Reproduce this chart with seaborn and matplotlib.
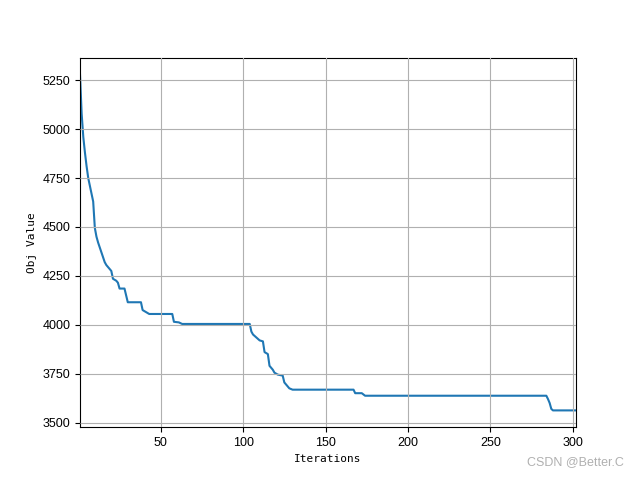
import matplotlib
matplotlib.use("Agg")
import matplotlib.pyplot as plt
import seaborn as sns
import pandas as pd

iterations = [1, 2, 3, 4, 5, 6, 7, 8, 9, 10, 11, 12, 13, 14, 15, 16, 17, 18, 20, 21,
              23, 24, 25, 28, 30, 38, 39, 41, 43, 57, 58, 61, 63, 104, 105, 106, 108,
              110, 112, 113, 115, 116, 118, 119, 121, 124, 125, 127, 128, 130, 167,
              168, 172, 174, 284, 285, 286, 287, 288, 302]
obj_values = [5280, 5080, 4960, 4880, 4810, 4750, 4710, 4670, 4630, 4495, 4450, 4420,
              4395, 4370, 4345, 4320, 4305, 4295, 4275, 4235, 4225, 4215, 4185, 4185,
              4115, 4115, 4075, 4065, 4055, 4055, 4015, 4012, 4004, 4004, 3965, 3950,
              3935, 3920, 3915, 3860, 3850, 3790, 3770, 3755, 3745, 3740, 3705, 3685,
              3675, 3668, 3668, 3650, 3650, 3637, 3637, 3620, 3600, 3570, 3562, 3562]

df = pd.DataFrame({"Iterations": iterations, "Obj Value": obj_values})

fig, ax = plt.subplots(figsize=(6.4, 4.8), dpi=100)
sns.lineplot(data=df, x="Iterations", y="Obj Value", ax=ax, color="#1f77b4", linewidth=1.5)
ax.set_xlim(1, 302)
ax.grid(True, color="#b0b0b0", linewidth=0.8)
ax.set_axisbelow(False)
ax.set_xticks([50, 100, 150, 200, 250, 300])
ax.set_yticks([3500, 3750, 4000, 4250, 4500, 4750, 5000, 5250])
for lbl in ax.get_xticklabels() + ax.get_yticklabels():
    lbl.set_fontfamily("Liberation Sans")
    lbl.set_fontsize(9)
ax.set_xlabel("Iterations", fontfamily="DejaVu Sans Mono", fontsize=8)
ax.set_ylabel("Obj Value", fontfamily="DejaVu Sans Mono", fontsize=8)
fig.text(0.975, 0.025, "CSDN @Better.C", ha="right", va="bottom", color="#b0b0b0",
         fontsize=9, fontfamily="Liberation Sans")
fig.savefig("out.png", dpi=100)
